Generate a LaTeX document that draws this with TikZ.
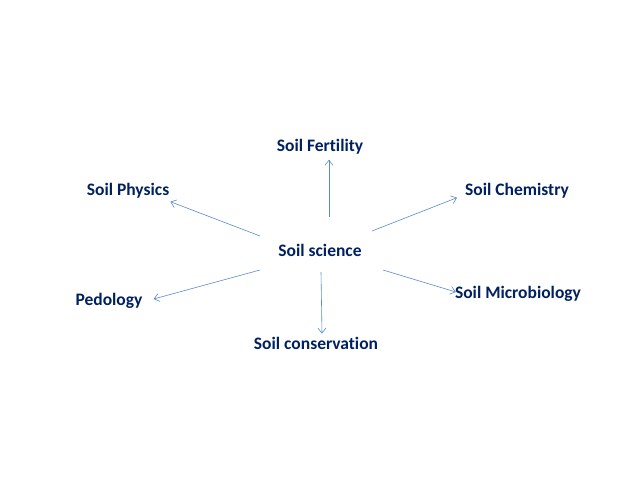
\documentclass[tikz,border=0pt]{standalone}
\usepackage{fontspec}
\setmainfont[Ligatures={NoCommon}]{Carlito}
\usetikzlibrary{arrows.meta}
\definecolor{navytext}{HTML}{002060}
\definecolor{arrowblue}{HTML}{5B8ACB}
\begin{document}
\begin{tikzpicture}[x=1pt, y=-1pt,
    topic/.style={text=navytext, font=\fontsize{17.5}{21}\selectfont\bfseries, inner sep=3pt},
    link/.style={draw=arrowblue, line width=0.6pt, -{Straight Barb[length=5pt, width=8pt]}}]
                    \useasboundingbox (0,0) rectangle (638,478);

                    \node[topic] (sci)   at (320,250) {Soil science};
                    \node[topic] (fert)  at (320,147) {Soil Fertility};
                    \node[topic] (phys)  at (128,191) {Soil Physics};
                    \node[topic] (chem)  at (517,191) {Soil Chemistry};
                    \node[topic] (ped)   at (109,301) {Pedology};
                    \node[topic] (micro) at (518,294) {Soil Microbiology};
                    \node[topic] (cons)  at (316,343) {Soil conservation};

                    % arrow tails around the centre
                    \coordinate (sFert)  at (329,217);
                    \coordinate (sPhys)  at (260,236);
                    \coordinate (sChem)  at (372,231);
                    \coordinate (sPed)   at (260,270);
                    \coordinate (sMicro) at (383,270);
                    \coordinate (sCons)  at (321,272);

                    \draw[link] (sFert)  -- ([yshift=-2]fert.south -| sFert);
                    \draw[link] (sPhys)  -- ([shift={(-2,0)}]phys.south east);
                    \draw[link] (sChem)  -- ([shift={(-5,-4)}]chem.south west);
                    \draw[link] (sPed)   -- ([shift={(8,-2)}]ped.east);
                    \draw[link] (sMicro) -- ([shift={(4,-2)}]micro.west);
                    \draw[link] (sCons)  -- ([shift={(1,0)}]cons.north -| sCons);
                \end{tikzpicture}
\end{document}
